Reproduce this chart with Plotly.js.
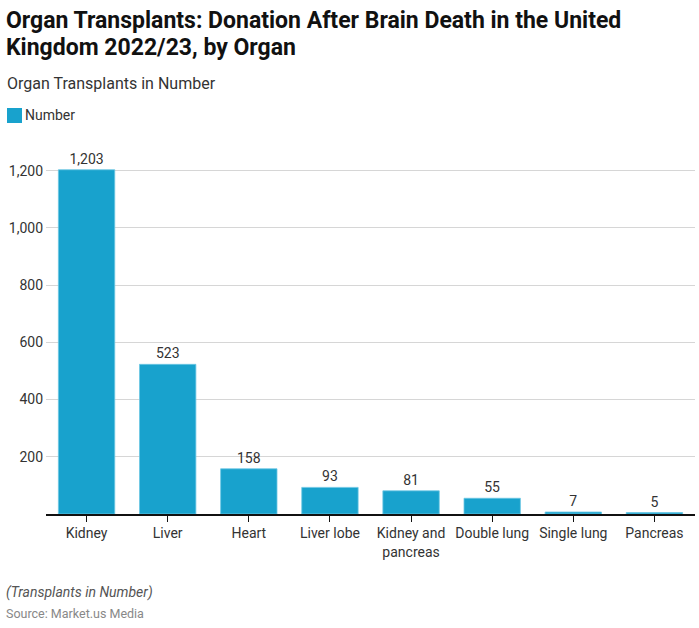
<!DOCTYPE html>
<html>
<head>
<meta charset="utf-8">
<script src="https://cdn.plot.ly/plotly-3.0.1.min.js"></script>
<style>html,body{margin:0;padding:0;background:#fff;}#chart{width:699px;height:628px;}</style>
</head>
<body>
<div id="chart"></div>
<script>
const categories = ["Kidney", "Liver", "Heart", "Liver lobe", "Kidney and<br>pancreas", "Double lung", "Single lung", "Pancreas"];
const values = [1203, 523, 158, 93, 81, 55, 7, 5];
const yTickVals = [200, 400, 600, 800, 1000, 1200];
const yTickText = ["200", "400", "600", "800", "1,000", "1,200"];
const seriesName = "Number";

const W = 699, H = 628, ML = 46, MR = 4, MT = 142, MB = 114;
const PW = W - ML - MR, PH = H - MT - MB;
const px = X => (X - ML) / PW;
const py = Y => (H - MB - Y) / PH;

const trace = {
  type: "bar",
  x: categories,
  y: values,
  name: seriesName,
  marker: { color: "#18A2CD", line: { color: "#6cc6e3", width: 0.8 } },
  text: values.map(v => v.toLocaleString("en-US")),
  textposition: "outside",
  textfont: { family: "Roboto", size: 14, color: "#333" },
  cliponaxis: false,
  hoverinfo: "x+y"
};

function ann(text, X, Y, size, color, extra) {
  return Object.assign({ text, xref: "paper", yref: "paper", x: px(X), y: py(Y),
    xanchor: "left", yanchor: "middle", showarrow: false, borderpad: 0,
    font: { family: "Roboto", size, color } }, extra || {});
}

const layout = {
  width: W, height: H,
  margin: { l: ML, r: MR, t: MT, b: MB },
  paper_bgcolor: "#fff", plot_bgcolor: "#fff",
  font: { family: "Roboto", color: "#333", size: 14 },
  bargap: 0.305,
  showlegend: false,
  xaxis: {
    showline: true, linecolor: "#111", linewidth: 1.5,
    ticks: "outside", ticklen: 6, tickcolor: "#111",
    tickfont: { family: "Roboto", size: 14, color: "#333" },
    automargin: false, fixedrange: true
  },
  yaxis: {
    range: [0, 1300],
    tickvals: yTickVals, ticktext: yTickText,
    showgrid: true, gridcolor: "#d6d6d6", gridwidth: 1,
    zeroline: false, showline: false,
    tickfont: { family: "Roboto", size: 14, color: "#333" },
    ticklabelstandoff: 2,
    automargin: false, fixedrange: true
  },
  shapes: [
    { type: "rect", xref: "paper", yref: "paper", x0: px(7), x1: px(22), y0: py(123), y1: py(108),
      fillcolor: "#18A2CD", line: { width: 0 } }
  ],
  annotations: [
    ann("<b>Organ Transplants: Donation After Brain Death in the United</b>", 5, 20, 23, "#111"),
    ann("<b>Kingdom 2022/23, by Organ</b>", 5, 47.5, 23, "#111"),
    ann("Organ Transplants in Number", 6, 84, 16, "#333"),
    ann(seriesName, 24, 115, 14, "#333"),
    ann("<i>(Transplants in Number)</i>", 5, 592, 14, "#555"),
    ann("Source: Market.us Media", 5, 613, 12.5, "#888")
  ]
};

Plotly.newPlot("chart", [trace], layout, { displayModeBar: false, staticPlot: true });
</script>
</body>
</html>
